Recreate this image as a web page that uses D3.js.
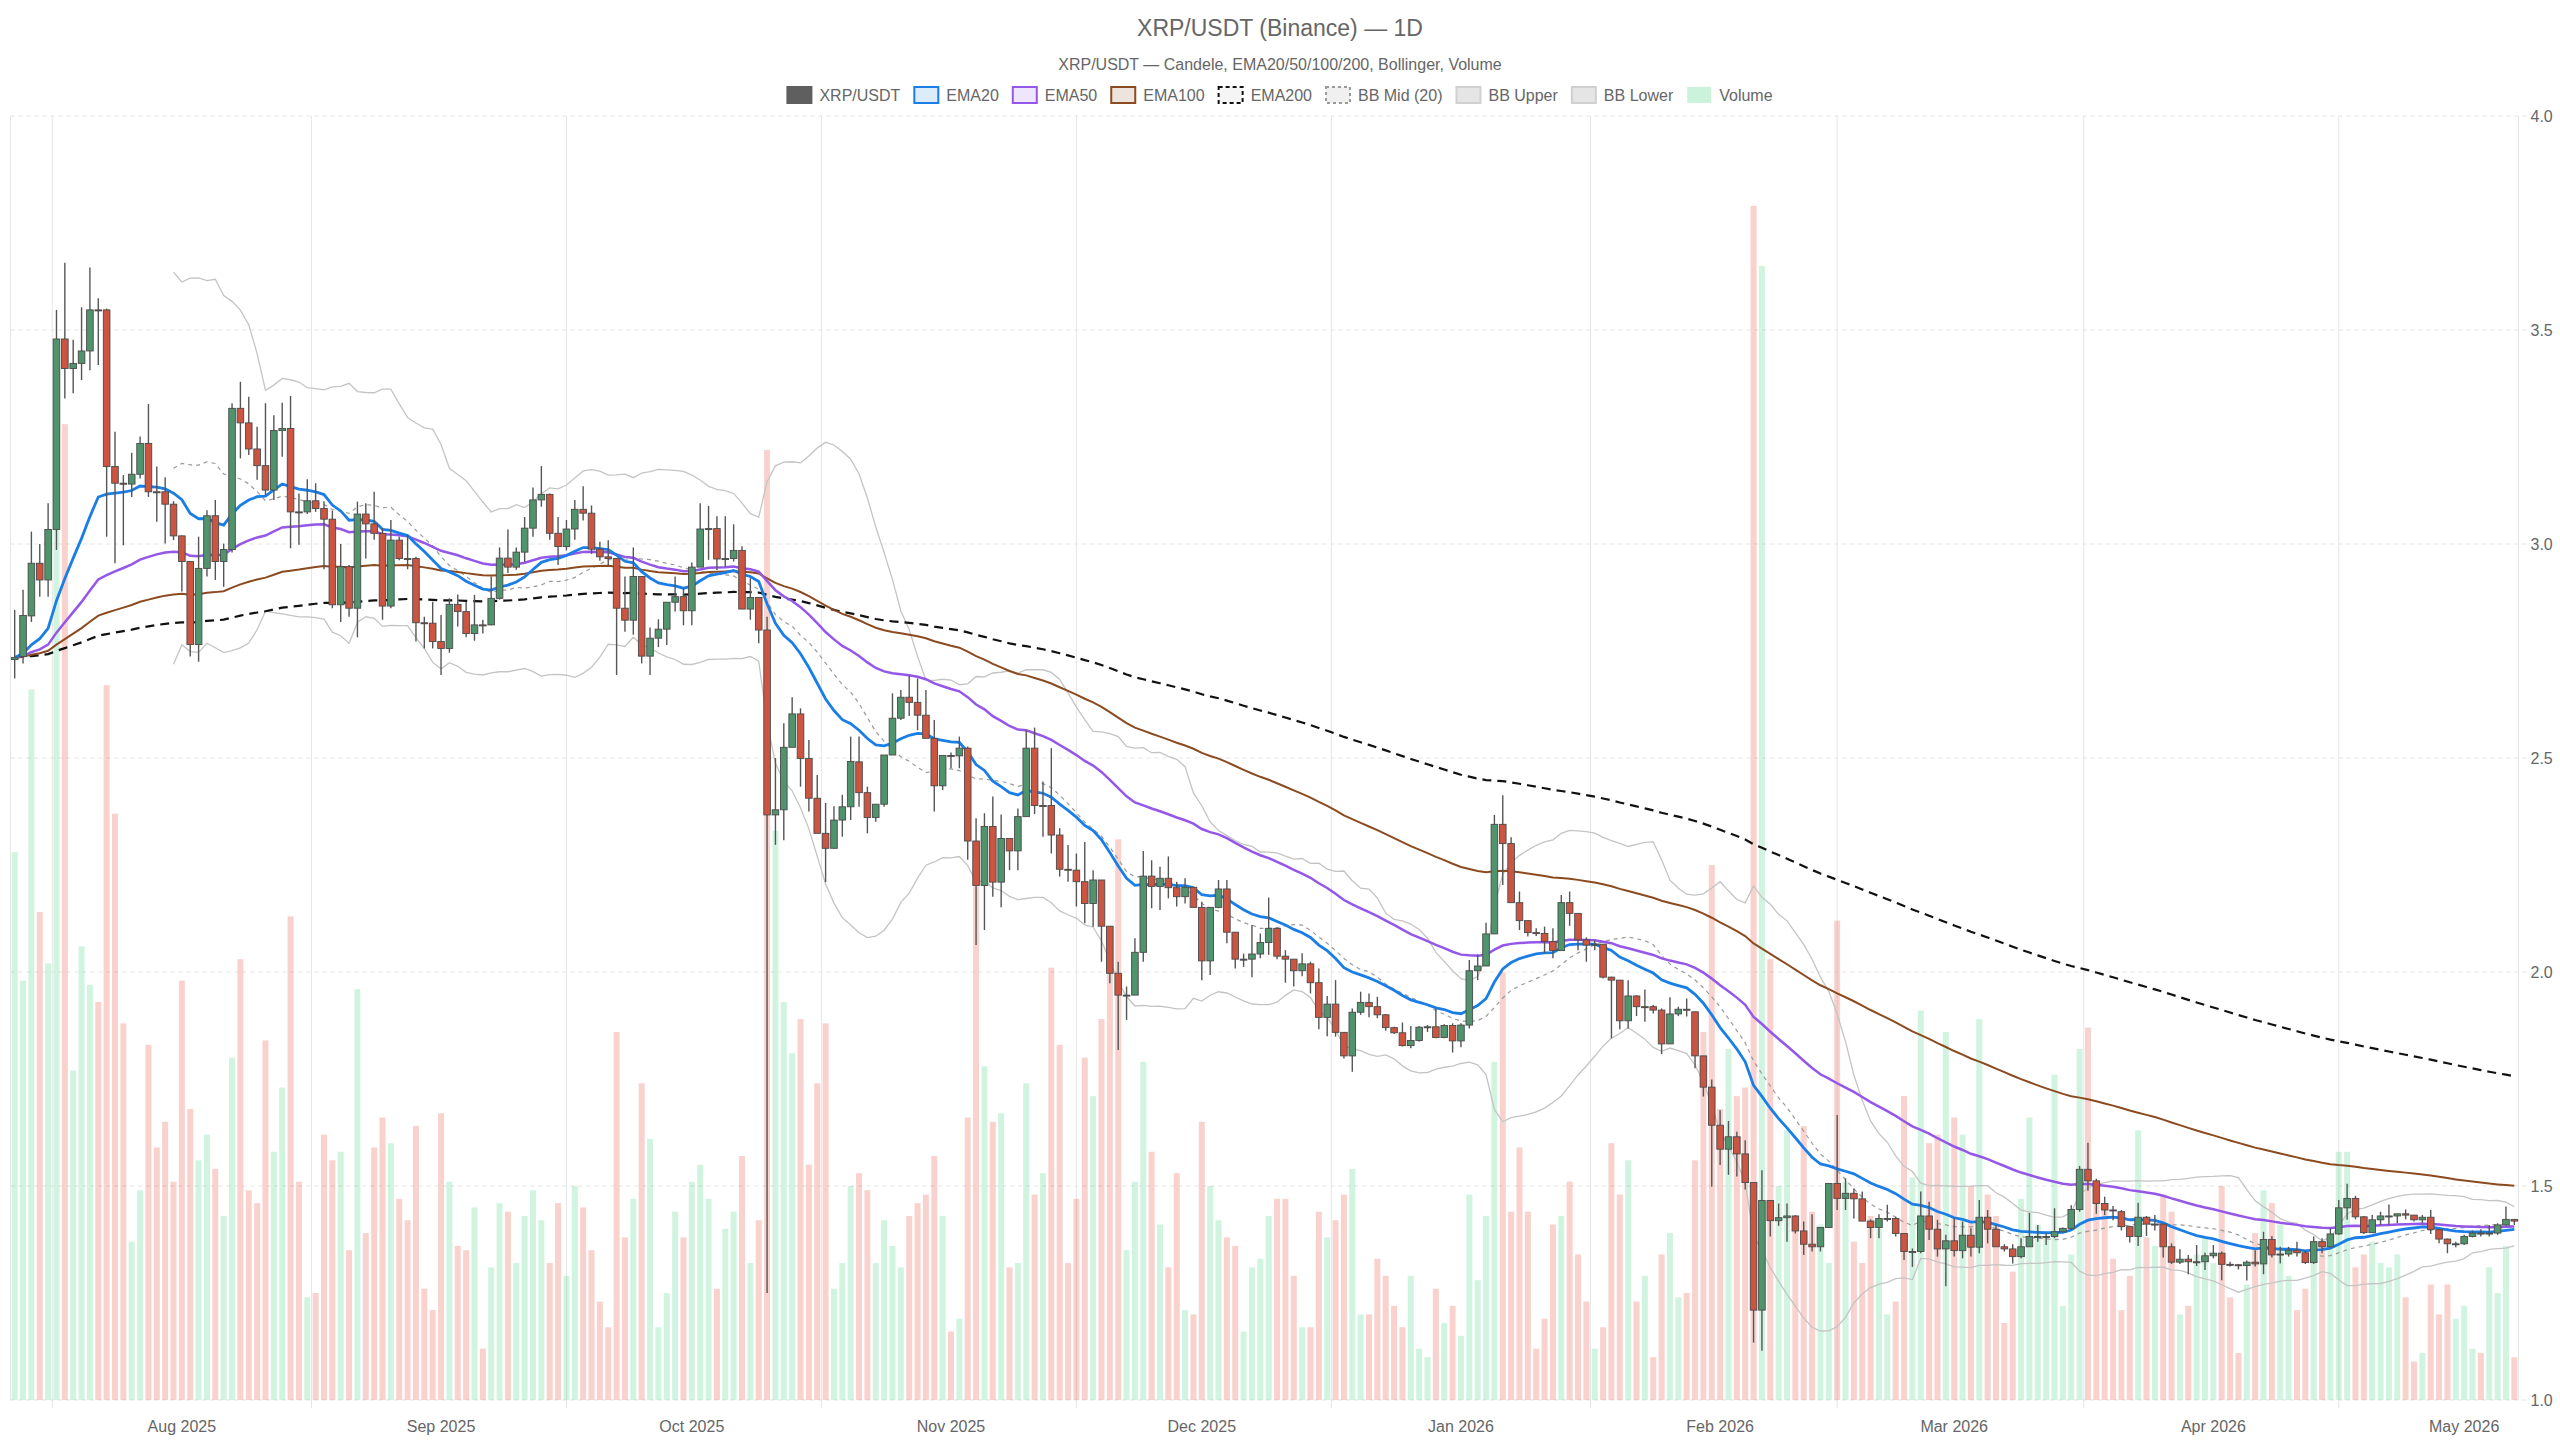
<!DOCTYPE html>
<html><head><meta charset="utf-8">
<script src="https://cdn.jsdelivr.net/npm/d3@7"></script>
<style>html,body{margin:0;padding:0;background:#fff;}svg{display:block;font-family:"Liberation Sans",Arial,Helvetica,sans-serif;}</style>
</head><body><svg id="chart" width="2560" height="1440"></svg>
<script>
// ---- data (daily candles from 2025-07-12) ----
const startDate = "2025-07-12";
const open = [2.73,2.737,2.832,2.955,2.916,3.034,3.479,3.41,3.422,3.451,3.547,3.547,3.181,3.142,3.14,3.163,3.235,3.122,3.122,3.093,3.019,2.959,2.765,2.943,3.066,2.959,2.987,3.317,3.283,3.222,3.183,3.126,3.265,3.27,3.075,3.075,3.101,3.083,3.058,2.858,2.947,2.85,3.07,3.047,3.025,2.855,3.009,2.966,2.966,2.816,2.815,2.772,2.756,2.859,2.842,2.791,2.811,2.811,2.873,2.967,2.946,2.981,3.037,3.103,3.116,3.025,2.994,3.035,3.081,3.072,2.988,2.97,2.966,2.85,2.822,2.924,2.738,2.78,2.801,2.864,2.877,2.844,2.946,3.035,3.036,2.965,2.966,2.985,2.848,2.875,2.799,2.367,2.379,2.525,2.603,2.499,2.406,2.324,2.289,2.355,2.386,2.491,2.419,2.361,2.392,2.507,2.593,2.642,2.63,2.6,2.546,2.435,2.506,2.505,2.523,2.306,2.202,2.34,2.21,2.312,2.283,2.363,2.523,2.389,2.389,2.32,2.24,2.238,2.211,2.16,2.215,2.107,1.997,1.946,1.946,2.046,2.224,2.2,2.219,2.197,2.176,2.198,2.151,2.026,2.151,2.194,2.093,2.03,2.03,2.042,2.069,2.102,2.037,2.03,2.003,2.019,1.975,1.894,1.925,1.859,1.804,1.906,1.929,1.919,1.9,1.87,1.858,1.828,1.84,1.871,1.872,1.847,1.875,1.839,1.876,2.003,2.014,2.089,2.345,2.3,2.162,2.12,2.092,2.09,2.071,2.05,2.162,2.137,2.075,2.063,2.065,1.988,1.981,1.886,1.944,1.919,1.919,1.911,1.832,1.902,1.913,1.907,1.804,1.731,1.642,1.586,1.615,1.575,1.508,1.21,1.466,1.419,1.426,1.43,1.395,1.364,1.358,1.403,1.506,1.471,1.483,1.47,1.418,1.403,1.424,1.424,1.389,1.347,1.347,1.43,1.399,1.353,1.372,1.349,1.385,1.357,1.427,1.399,1.358,1.353,1.335,1.358,1.382,1.382,1.382,1.393,1.401,1.445,1.539,1.512,1.459,1.444,1.44,1.405,1.382,1.427,1.411,1.411,1.358,1.322,1.329,1.323,1.323,1.337,1.343,1.317,1.316,1.314,1.322,1.318,1.375,1.339,1.341,1.35,1.344,1.321,1.37,1.358,1.388,1.449,1.471,1.428,1.391,1.421,1.43,1.43,1.435,1.432,1.421,1.427,1.398,1.376,1.365,1.365,1.382,1.39,1.388,1.39,1.409,1.422];
const high = [2.846,2.893,3.029,3.0,3.095,3.547,3.657,3.477,3.553,3.646,3.574,3.55,3.262,3.161,3.213,3.251,3.327,3.181,3.156,3.1,3.02,2.96,3.017,3.079,3.103,3.001,3.329,3.379,3.344,3.274,3.329,3.301,3.33,3.346,3.118,3.151,3.142,3.1,3.078,3.0,2.951,3.099,3.095,3.122,3.037,3.056,3.017,3.021,2.97,2.83,2.865,2.834,2.873,2.882,2.865,2.881,2.823,2.924,2.992,3.034,2.992,3.063,3.132,3.182,3.118,3.063,3.056,3.103,3.135,3.09,3.005,3.009,2.966,2.924,2.992,2.924,2.805,2.824,2.864,2.924,2.896,2.957,3.095,3.089,3.065,3.065,3.046,2.995,2.92,2.875,2.83,2.5,2.581,2.642,2.616,2.542,2.46,2.395,2.387,2.414,2.55,2.55,2.433,2.392,2.507,2.651,2.659,2.692,2.686,2.659,2.589,2.506,2.513,2.55,2.527,2.359,2.371,2.41,2.368,2.312,2.382,2.565,2.571,2.445,2.523,2.336,2.297,2.277,2.304,2.238,2.215,2.107,2.024,1.966,2.079,2.283,2.261,2.246,2.27,2.211,2.219,2.198,2.164,2.151,2.215,2.215,2.093,2.043,2.11,2.09,2.174,2.102,2.051,2.03,2.044,2.024,2.008,1.944,1.981,1.86,1.915,1.954,1.95,1.942,1.902,1.872,1.882,1.874,1.874,1.876,1.915,1.878,1.88,1.88,2.028,2.041,2.115,2.367,2.413,2.315,2.188,2.12,2.102,2.106,2.102,2.18,2.188,2.137,2.081,2.075,2.065,1.989,1.981,1.981,1.946,1.959,1.923,1.915,1.941,1.919,1.938,1.907,1.804,1.749,1.677,1.652,1.627,1.607,1.508,1.537,1.466,1.459,1.459,1.432,1.417,1.434,1.403,1.506,1.666,1.518,1.494,1.487,1.422,1.434,1.456,1.428,1.389,1.354,1.487,1.463,1.421,1.386,1.425,1.417,1.401,1.467,1.444,1.409,1.364,1.364,1.378,1.437,1.409,1.39,1.448,1.403,1.455,1.547,1.601,1.517,1.475,1.453,1.444,1.407,1.461,1.43,1.432,1.411,1.366,1.352,1.339,1.362,1.344,1.362,1.347,1.323,1.318,1.326,1.35,1.393,1.383,1.358,1.358,1.37,1.35,1.382,1.378,1.401,1.467,1.505,1.477,1.43,1.432,1.44,1.457,1.436,1.445,1.432,1.432,1.444,1.399,1.377,1.37,1.386,1.396,1.399,1.409,1.413,1.452,1.422];
const low = [2.686,2.721,2.818,2.877,2.877,2.986,3.34,3.352,3.383,3.406,3.418,3.017,2.955,2.997,3.11,3.153,3.11,3.052,3.001,3.009,2.889,2.737,2.725,2.924,2.916,2.9,2.98,3.2,3.208,3.15,3.114,3.103,3.204,2.99,2.998,3.07,3.075,2.941,2.85,2.818,2.83,2.782,2.966,3.01,2.823,2.85,2.962,2.941,2.772,2.756,2.756,2.694,2.746,2.807,2.782,2.774,2.791,2.81,2.87,2.932,2.94,2.958,3.017,3.087,3.01,2.951,2.985,3.01,3.055,2.977,2.961,2.95,2.694,2.795,2.788,2.721,2.694,2.759,2.764,2.842,2.81,2.81,2.946,2.963,2.939,2.947,2.959,2.848,2.823,2.768,1.25,2.297,2.308,2.525,2.433,2.375,2.324,2.21,2.289,2.316,2.355,2.386,2.324,2.351,2.386,2.507,2.589,2.598,2.565,2.546,2.375,2.425,2.476,2.476,2.262,2.063,2.098,2.176,2.151,2.238,2.238,2.363,2.369,2.316,2.277,2.223,2.211,2.153,2.114,2.106,2.024,1.974,1.818,1.888,1.946,2.024,2.149,2.145,2.172,2.153,2.16,2.151,1.981,1.993,2.149,2.067,2.008,2.012,1.988,2.032,2.04,2.03,1.975,1.966,1.99,1.95,1.866,1.85,1.849,1.798,1.767,1.9,1.894,1.892,1.863,1.855,1.826,1.822,1.837,1.86,1.845,1.845,1.812,1.824,1.868,1.981,2.014,2.089,2.203,2.162,2.098,2.083,2.084,2.044,2.032,2.05,2.108,2.051,2.024,2.051,1.985,1.845,1.866,1.868,1.897,1.884,1.903,1.808,1.832,1.897,1.896,1.775,1.709,1.498,1.549,1.526,1.522,1.492,1.134,1.115,1.382,1.407,1.37,1.389,1.339,1.347,1.347,1.403,1.444,1.444,1.424,1.418,1.378,1.378,1.417,1.382,1.327,1.311,1.343,1.374,1.335,1.266,1.335,1.331,1.335,1.343,1.366,1.358,1.347,1.319,1.331,1.358,1.37,1.362,1.378,1.393,1.397,1.44,1.489,1.435,1.432,1.42,1.396,1.368,1.36,1.383,1.396,1.333,1.318,1.318,1.294,1.313,1.304,1.331,1.28,1.312,1.305,1.279,1.312,1.294,1.333,1.319,1.335,1.335,1.318,1.318,1.343,1.357,1.386,1.421,1.422,1.388,1.39,1.409,1.409,1.413,1.422,1.417,1.413,1.388,1.366,1.343,1.357,1.362,1.38,1.382,1.382,1.386,1.407,1.409];
const close = [2.735,2.833,2.955,2.916,3.034,3.479,3.41,3.422,3.451,3.547,3.545,3.181,3.142,3.14,3.163,3.235,3.122,3.12,3.093,3.019,2.959,2.765,2.943,3.066,2.959,2.987,3.317,3.283,3.222,3.183,3.126,3.265,3.27,3.075,3.073,3.101,3.083,3.058,2.858,2.947,2.85,3.07,3.047,3.025,2.855,3.009,2.966,2.964,2.816,2.814,2.772,2.756,2.859,2.842,2.791,2.811,2.81,2.873,2.967,2.946,2.981,3.037,3.103,3.116,3.025,2.994,3.035,3.081,3.072,2.988,2.97,2.966,2.85,2.822,2.924,2.738,2.78,2.801,2.864,2.877,2.844,2.946,3.035,3.036,2.965,2.966,2.985,2.848,2.875,2.799,2.367,2.379,2.525,2.603,2.499,2.406,2.324,2.289,2.355,2.386,2.492,2.419,2.361,2.392,2.507,2.593,2.642,2.63,2.6,2.546,2.435,2.506,2.505,2.523,2.306,2.202,2.34,2.21,2.312,2.283,2.363,2.523,2.389,2.389,2.32,2.24,2.238,2.211,2.16,2.215,2.107,1.997,1.946,1.946,2.046,2.224,2.2,2.219,2.197,2.176,2.198,2.151,2.026,2.151,2.194,2.093,2.03,2.03,2.042,2.069,2.102,2.037,2.03,2.003,2.019,1.975,1.894,1.925,1.859,1.804,1.906,1.929,1.919,1.9,1.87,1.858,1.828,1.84,1.871,1.872,1.847,1.875,1.839,1.876,2.003,2.014,2.089,2.345,2.3,2.162,2.12,2.092,2.09,2.071,2.05,2.162,2.137,2.075,2.063,2.065,1.988,1.981,1.886,1.944,1.919,1.919,1.911,1.832,1.902,1.913,1.911,1.804,1.731,1.642,1.586,1.615,1.575,1.508,1.21,1.466,1.419,1.426,1.43,1.395,1.364,1.358,1.403,1.506,1.471,1.483,1.47,1.418,1.403,1.424,1.424,1.389,1.347,1.347,1.43,1.399,1.353,1.372,1.349,1.385,1.357,1.427,1.399,1.358,1.353,1.335,1.358,1.382,1.382,1.382,1.393,1.401,1.445,1.539,1.512,1.459,1.444,1.442,1.405,1.382,1.427,1.411,1.411,1.358,1.322,1.329,1.323,1.323,1.337,1.343,1.317,1.316,1.314,1.322,1.318,1.375,1.339,1.341,1.35,1.344,1.321,1.37,1.358,1.388,1.449,1.471,1.428,1.391,1.421,1.43,1.43,1.435,1.432,1.421,1.427,1.398,1.376,1.365,1.365,1.382,1.39,1.388,1.39,1.409,1.422,1.418];
const volume = [128,98,166,114,102,215,228,77,106,97,93,167,137,88,37,49,83,59,65,51,98,68,56,62,54,43,80,103,49,46,84,58,73,113,51,24,25,62,56,58,35,96,39,59,66,60,47,42,64,26,21,67,51,36,35,45,12,31,46,44,32,43,49,42,32,46,29,50,45,35,23,17,86,38,47,74,61,17,25,44,38,51,55,47,26,40,44,57,32,42,222,133,93,81,89,55,74,88,26,32,50,53,49,32,42,36,31,43,46,48,57,43,16,19,66,120,78,65,67,31,32,74,48,53,101,83,32,47,80,71,89,104,131,35,51,79,58,41,31,53,21,20,65,50,42,38,36,16,31,33,43,47,47,29,17,17,44,38,42,48,54,20,20,33,29,22,17,29,12,10,26,18,22,15,48,28,43,79,100,44,59,44,12,19,41,43,51,34,23,12,17,60,48,56,23,29,10,34,39,24,25,56,86,125,68,82,71,73,279,265,103,50,63,40,64,44,41,32,112,51,37,32,43,40,20,23,71,52,91,60,62,86,66,62,50,89,48,43,18,30,47,66,41,38,76,22,34,82,87,48,46,33,21,29,63,38,36,48,44,20,22,34,38,32,50,24,11,27,39,49,46,41,29,21,26,34,37,38,58,58,31,34,37,32,31,34,24,9,11,27,20,27,19,22,12,11,31,25,36,10];
const yTickValues = [1.0,1.5,2.0,2.5,3.0,3.5,4.0];
const monthTickDates = ["2025-08-01","2025-09-01","2025-10-01","2025-11-01","2025-12-01","2026-01-01","2026-02-01","2026-03-01","2026-04-01","2026-05-01"];
const titleText = "XRP/USDT (Binance) \u2014 1D";
const subtitleText = "XRP/USDT \u2014 Candele, EMA20/50/100/200, Bollinger, Volume";
const legendItems = ["XRP/USDT","EMA20","EMA50","EMA100","EMA200","BB Mid (20)","BB Upper","BB Lower","Volume"];

// ---- indicators derived from close ----
function ema(vals, n){ const k = 2/(n+1); const out=[]; let p = vals[0]; vals.forEach((v,i)=>{ p = i===0 ? v : v*k + p*(1-k); out.push(p); }); return out; }
function boll(vals, n, m){ const mid=[],up=[],lo=[]; vals.forEach((v,i)=>{ if(i<n-1){mid.push(null);up.push(null);lo.push(null);return;} const s=vals.slice(i-n+1,i+1); const mu=d3.mean(s); const sd=Math.sqrt(d3.mean(s,x=>(x-mu)*(x-mu))); mid.push(mu); up.push(mu+m*sd); lo.push(mu-m*sd); }); return {mid,up,lo}; }

const parse = d3.timeParse("%Y-%m-%d");
const t0 = parse(startDate);
const dates = close.map((_,i)=>d3.timeDay.offset(t0,i));
const N = close.length;

const W=2560,H=1440;
const plot = {l:10.5, r:2518.5, t:116, b:1400};
const x = d3.scaleTime().domain([d3.timeHour.offset(dates[0],-12), d3.timeHour.offset(dates[N-1],12)]).range([plot.l, plot.r]);
const y = d3.scaleLinear().domain([1,4]).range([plot.b, plot.t]);
const yv = d3.scaleLinear().domain([0,300]).range([plot.b, plot.t]);

const svg = d3.select("#chart");
const txt = "#666";

// title
svg.append("text").attr("x",W/2).attr("y",36).attr("text-anchor","middle").attr("font-size",23).attr("fill",txt).text(titleText);
svg.append("text").attr("x",W/2).attr("y",70).attr("text-anchor","middle").attr("font-size",16).attr("fill",txt).text(subtitleText);

// grid
const g = svg.append("g");
yTickValues.forEach(v=>{
  g.append("line").attr("x1",plot.l).attr("x2",plot.r+8).attr("y1",y(v)).attr("y2",y(v)).attr("stroke","#e4e4e4").attr("stroke-width",1).attr("stroke-dasharray","4,4");
});
const months = monthTickDates.map(parse);
const allMonths = [d3.timeMonth.offset(months[0],-1), ...months, d3.timeMonth.offset(months[months.length-1],1)];
for(let i=0;i<allMonths.length-1;i++){
  const mid = new Date((allMonths[i].getTime()+allMonths[i+1].getTime())/2);
  const xx = x(mid);
  if(xx>plot.l && xx<plot.r) g.append("line").attr("x1",xx).attr("x2",xx).attr("y1",plot.t).attr("y2",plot.b+8).attr("stroke","#e6e6e6").attr("stroke-width",1);
}
g.append("line").attr("x1",plot.l).attr("x2",plot.l).attr("y1",plot.t).attr("y2",plot.b).attr("stroke","#e6e6e6");
g.append("line").attr("x1",plot.r).attr("x2",plot.r).attr("y1",plot.t).attr("y2",plot.b).attr("stroke","#e6e6e6");

// axes labels
const fmtY = d3.format(".1f");
yTickValues.forEach(v=>{
  svg.append("text").attr("x",plot.r+12).attr("y",y(v)).attr("dy","0.35em").attr("font-size",16).attr("fill",txt).text(fmtY(v));
});
const fmtM = d3.timeFormat("%b %Y");
months.forEach(m=>{
  svg.append("text").attr("x",x(m)).attr("y",1432).attr("text-anchor","middle").attr("font-size",16).attr("fill",txt).text(fmtM(m));
});

// volume
const bw = 6;
const up = i => close[i] >= open[i];
svg.append("g").selectAll("rect").data(volume).join("rect")
  .attr("x",(d,i)=>x(dates[i])-bw/2).attr("width",bw)
  .attr("y",d=>yv(d)).attr("height",d=>plot.b-yv(d))
  .attr("fill",(d,i)=>up(i)?"rgba(46,204,113,0.22)":"rgba(231,76,60,0.25)");

// lines
const lineGen = arr => d3.line().defined(d=>d!=null).x((d,i)=>x(dates[i])).y(d=>y(d))(arr);
const bb = boll(close,20,2);
const lg = svg.append("g").attr("fill","none");
lg.append("path").attr("d",lineGen(bb.lo)).attr("stroke","#c4c4c4").attr("stroke-width",1.3);
lg.append("path").attr("d",lineGen(bb.up)).attr("stroke","#c4c4c4").attr("stroke-width",1.3);
lg.append("path").attr("d",lineGen(bb.mid)).attr("stroke","#9a9a9a").attr("stroke-width",1.2).attr("stroke-dasharray","4,4");
lg.append("path").attr("d",lineGen(ema(close,200))).attr("stroke","#111").attr("stroke-width",2.2).attr("stroke-dasharray","9,6");
lg.append("path").attr("d",lineGen(ema(close,100))).attr("stroke","#8b4a1f").attr("stroke-width",2);
lg.append("path").attr("d",lineGen(ema(close,50))).attr("stroke","#9457e8").attr("stroke-width",2.5);
lg.append("path").attr("d",lineGen(ema(close,20))).attr("stroke","#1a7ee6").attr("stroke-width",2.8);

// candles
const cg = svg.append("g");
const cw = 6.6;
close.forEach((c,i)=>{
  const xx = x(dates[i]);
  cg.append("line").attr("x1",xx).attr("x2",xx).attr("y1",y(high[i])).attr("y2",y(low[i])).attr("stroke","#555").attr("stroke-width",1.4);
  const top = y(Math.max(open[i],c)), bot = y(Math.min(open[i],c));
  cg.append("rect").attr("x",xx-cw/2).attr("width",cw).attr("y",top).attr("height",Math.max(1,bot-top))
    .attr("fill",up(i)?"#4f946c":"#cc5541").attr("stroke","#4a4a4a").attr("stroke-width",0.9);
});

// legend
const legendStyles = [
  {fill:"#5f5f5f",stroke:"#5f5f5f",dash:null},
  {fill:"rgba(26,126,230,0.15)",stroke:"#1a7ee6",dash:null},
  {fill:"rgba(148,87,232,0.15)",stroke:"#9457e8",dash:null},
  {fill:"rgba(139,74,31,0.15)",stroke:"#8b4a1f",dash:null},
  {fill:"rgba(0,0,0,0.04)",stroke:"#111",dash:"4,3"},
  {fill:"rgba(0,0,0,0.06)",stroke:"#9a9a9a",dash:"3,3"},
  {fill:"rgba(0,0,0,0.1)",stroke:"#d0d0d0",dash:null},
  {fill:"rgba(0,0,0,0.1)",stroke:"#d0d0d0",dash:null},
  {fill:"rgba(46,204,113,0.25)",stroke:"none",dash:null}
];
const leg = svg.append("g");
const boxW=24, boxH=16, gapT=8, gapI=14, ly=95;
const items = legendItems.map((t,i)=>{
  const it = leg.append("g");
  it.append("rect").attr("width",boxW).attr("height",boxH).attr("y",ly-boxH/2).attr("fill",legendStyles[i].fill).attr("stroke",legendStyles[i].stroke).attr("stroke-width",2).attr("stroke-dasharray",legendStyles[i].dash);
  const tx = it.append("text").attr("x",boxW+gapT).attr("y",ly).attr("dy","0.35em").attr("font-size",16).attr("fill",txt).text(t);
  return {it, w: boxW+gapT+tx.node().getComputedTextLength()};
});
const totalW = d3.sum(items,d=>d.w) + gapI*(items.length-1);
let cx = W/2 - totalW/2;
items.forEach(d=>{ d.it.attr("transform",`translate(${cx},0)`); cx += d.w + gapI; });
</script>
</body></html>
